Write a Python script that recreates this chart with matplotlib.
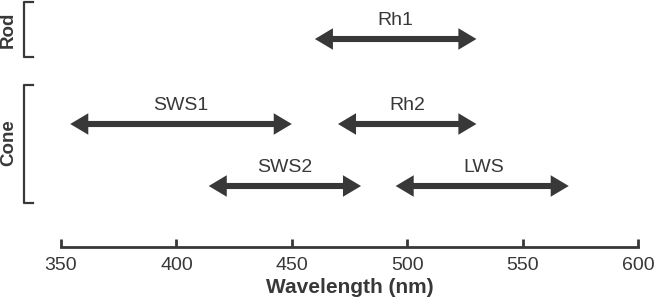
import matplotlib.pyplot as plt
from matplotlib.patches import FancyArrowPatch
from matplotlib.lines import Line2D

plt.rcParams['font.family'] = ['Liberation Sans', 'DejaVu Sans']

# opsin sensitivity ranges (nm)
names = ['Rh1', 'SWS1', 'Rh2', 'SWS2', 'LWS']
starts = [460, 354, 470, 414, 495]
ends = [530, 450, 530, 480, 570]
label_x = [495, 402, 500, 447, 533]
rows = [0, 1, 1, 2, 2]

ticks = [350, 400, 450, 500, 550, 600]
col = '#383838'
W, H = 655, 308

fig = plt.figure(figsize=(6.55, 3.08), dpi=100)
ax = fig.add_axes([61 / W, 1 - 247 / H, 577 / W, 247 / H])

# row heights in pixel-ish units, top of axes = 0
row_y = [39, 124, 186]
ax.set_xlim(350, 600)
ax.set_ylim(247, 0)

style = '<|-|>,head_length=13,head_width=7.75'
for n, s, e, lx, r in zip(names, starts, ends, label_x, rows):
    y = row_y[r]
    # shaft, then unstroked heads on top
    ax.plot([s + 4, e - 4], [y, y], color=col, lw=4.4, solid_capstyle='butt')
    ax.add_patch(FancyArrowPatch((s, y), (e, y), arrowstyle=style,
                                 mutation_scale=1, lw=0, color=col,
                                 shrinkA=0, shrinkB=0))
    ax.text(lx, y - 18.5, n, ha='center', va='center', fontsize=14, color=col)

for sp in ['top', 'left', 'right']:
    ax.spines[sp].set_visible(False)
ax.spines['bottom'].set_linewidth(2)
ax.spines['bottom'].set_color(col)
ax.set_yticks([])
ax.set_xticks(ticks)
ax.tick_params(axis='x', direction='in', length=6, width=2, color=col,
               labelsize=14, labelcolor=col, pad=7)
ax.set_xlabel('Wavelength (nm)', fontsize=15, fontweight='bold', color=col,
              labelpad=3)

# Rod / Cone brackets
def bracket(y0, y1):
    x0, x1 = 24 / W, 33 / W
    fy0, fy1 = 1 - y0 / H, 1 - y1 / H
    fig.add_artist(Line2D([x1, x0, x0, x1], [fy0, fy0, fy1, fy1],
                          color=col, lw=1.6))

bracket(2, 57)
bracket(85, 203)
fig.text(8.5 / W, 1 - 29.5 / H, 'Rod', rotation=90, ha='center', va='center',
         fontsize=13.5, fontweight='bold', color=col)
fig.text(8.5 / W, 1 - 143 / H, 'Cone', rotation=90, ha='center', va='center',
         fontsize=13.5, fontweight='bold', color=col)

fig.savefig('out.png', dpi=100)
